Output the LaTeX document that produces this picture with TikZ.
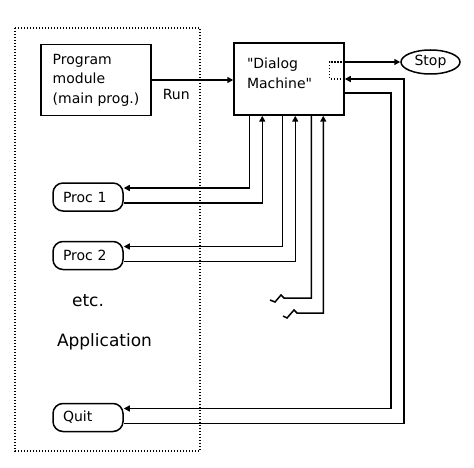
\documentclass[tikz,border=0pt]{standalone}
\usepackage{fontspec}
\setmainfont{DejaVu Sans}
\usetikzlibrary{arrows.meta,shapes.geometric}

\begin{document}
\begin{tikzpicture}[
    x=1pt,
    y=-1pt,
    ->,
    >={Triangle[length=6pt,width=6pt]},
    line width=1.5pt,
    font=\fontsize{14}{19.5}\selectfont,
    box/.style={
        rectangle,
        draw,
        -,
    },
    proc/.style={
        rectangle,
        rounded corners=10pt,
        draw,
        -,
        minimum width=70pt,
        minimum height=28pt,
        text width=50pt,
        inner xsep=10pt,
        align=left,
    },
    frame/.style={
        -,
        line width=1.3pt,
        dash pattern=on 1.3pt off 1.7pt,
    },
    big/.style={
        font=\fontsize{17}{20}\selectfont,
    },
]
    \useasboundingbox (0,0) rectangle (474,468);

    % application side
    \draw[frame] (15,28) rectangle (200,451);
    \node[box, minimum width=110pt, minimum height=71pt, align=left] (prog) at (96,80) {Program\\module\\(main prog.)};
    \node[proc] (proc1) at (88,197)   {Proc 1};
    \node[proc] (proc2) at (88,255.5) {Proc 2};
    \node[big]  (etc)   at (88,301)   {etc.};
    \node[big]  (app)   at (104.5,342) {Application};
    \node[proc] (quit)  at (88,417.5) {Quit};

    % dialog machine side
    \node[box, minimum width=110pt, minimum height=72pt] (dm) at (289,79) {};
    \node[anchor=north west, align=left, inner sep=0pt] (dmtext) at ([xshift=13pt,yshift=-15pt]dm.north west) {\textquotedbl Dialog\\Machine\textquotedbl};
    \node[ellipse, draw, -, minimum width=59pt, minimum height=24pt, inner sep=0pt] (stop) at (430.5,62) {Stop};
    \draw[frame] ([yshift=17pt]dm.east) -- ++(-15,0) |- (dm.east);

    \coordinate (brk1) at (284,298);
    \coordinate (brk2) at (283,316);

    \path
    (prog.east) edge node [below, pos=0.3, yshift=-5pt] {Run} (prog.east -| dm.west);

    \draw ([yshift=17pt]dm.east) -- (stop.west |- 0,62);

    \draw ([xshift=16pt]dm.south west) |- ([yshift=9pt]proc1.east);
    \draw ([yshift=-6pt]proc1.east) -| ([xshift=29pt]dm.south west);
    \draw ([xshift=49pt]dm.south west) |- ([yshift=9pt]proc2.east);
    \draw ([yshift=-6pt]proc2.east) -| ([xshift=62pt]dm.south west);
    \draw[-] ([xshift=78pt]dm.south west) |- (brk1) -- ++(-3,-3) -- ++(-6,7) -- ++(-5,-2);
    \draw (brk2) -- ++(4,2) -- ++(7,-8) -- ++(3,3) -| ([xshift=90pt]dm.south west);

    \draw ([yshift=-14pt]dm.east) -- ++(46,0) |- ([yshift=9pt]quit.east);
    \draw ([yshift=-6pt]quit.east) -- ++(280,0) |- (dm.east);
\end{tikzpicture}
\end{document}
